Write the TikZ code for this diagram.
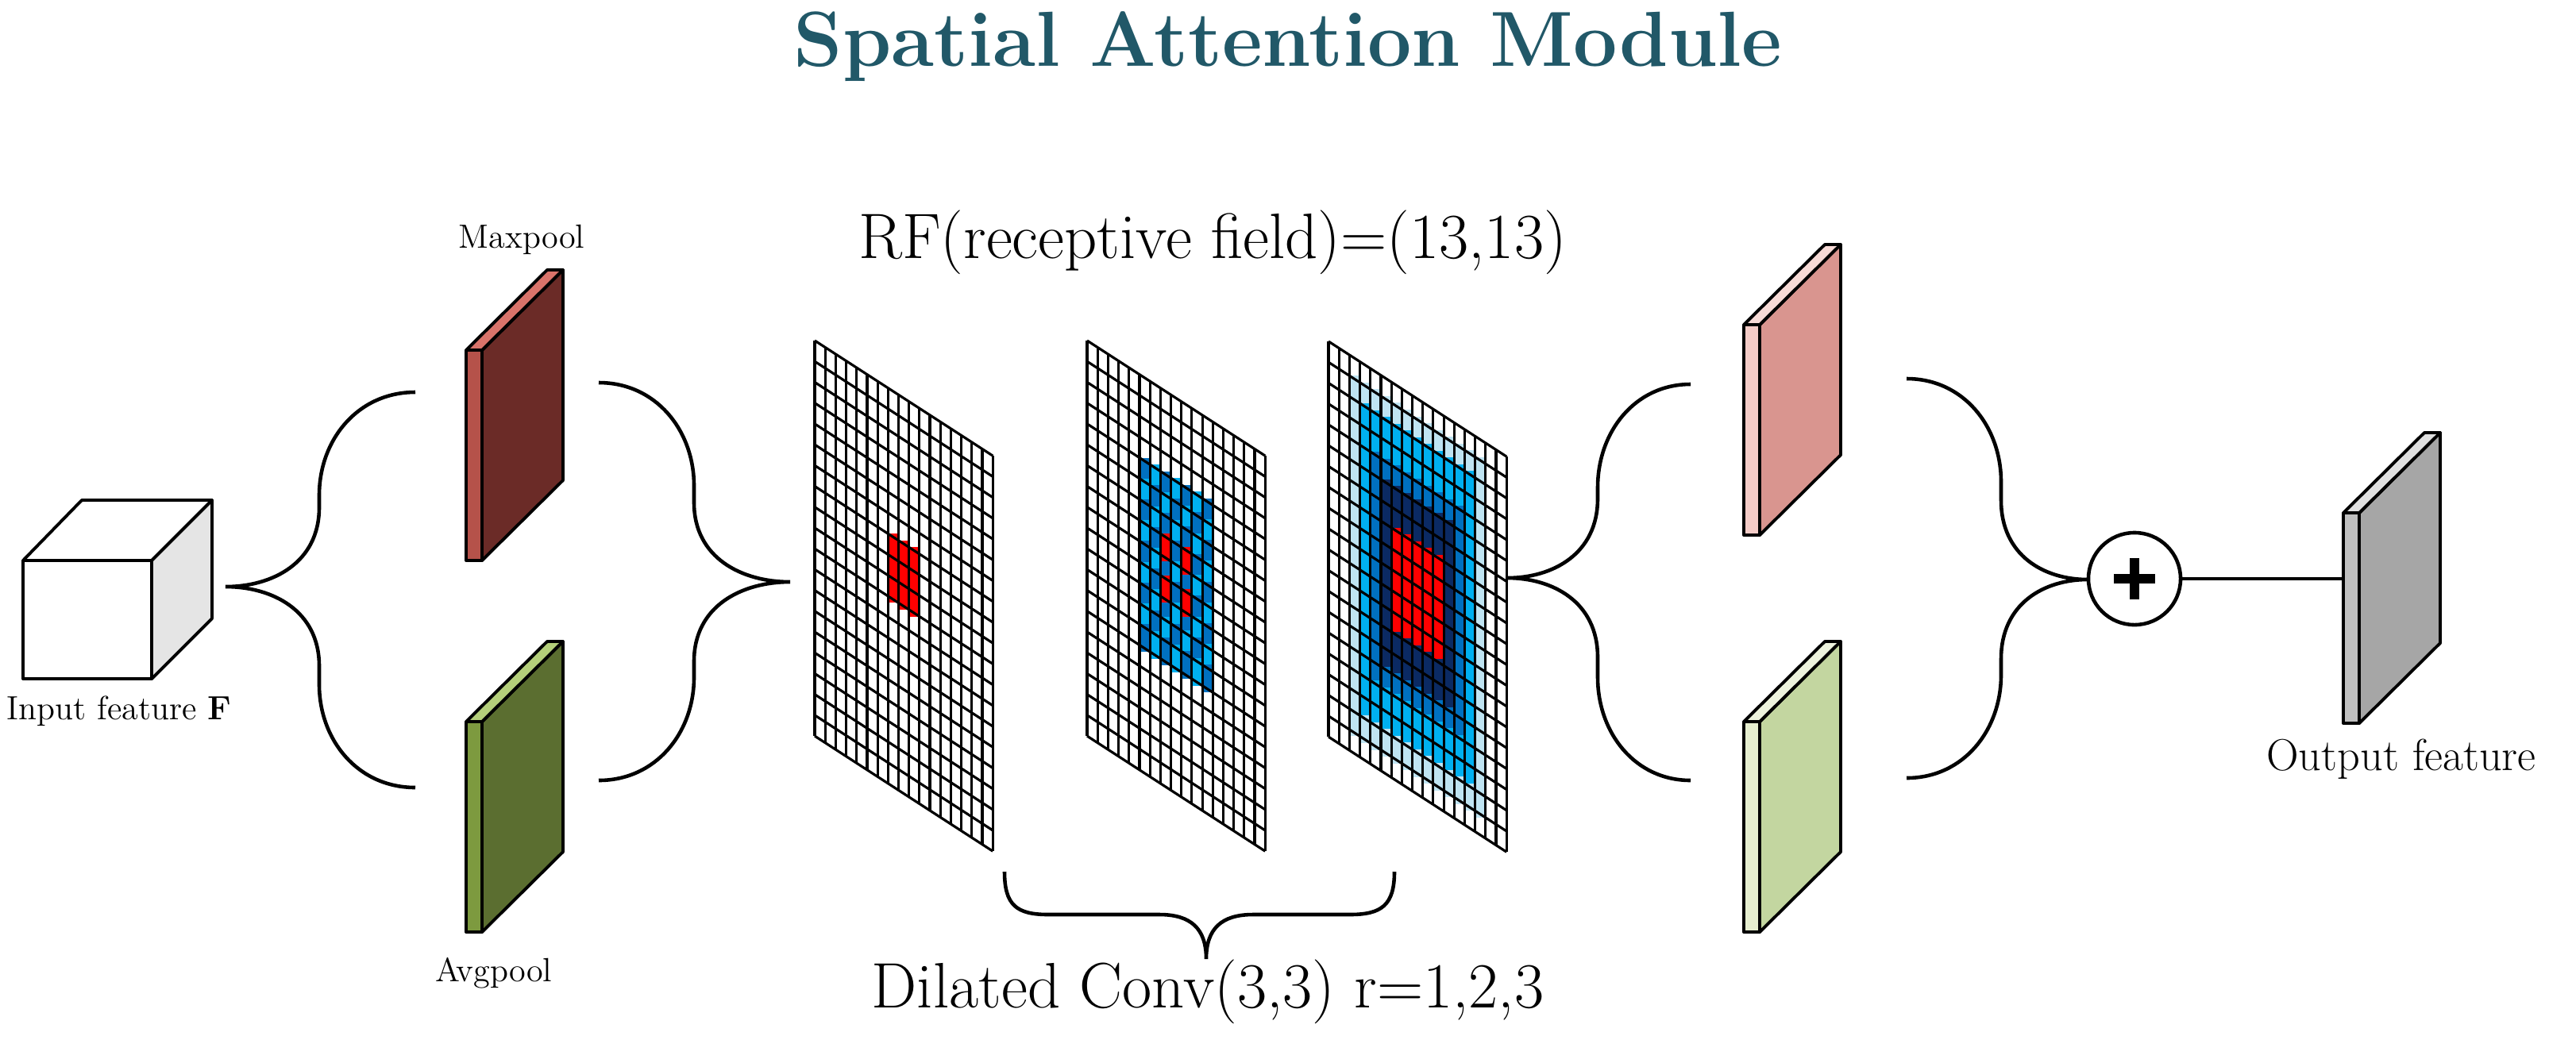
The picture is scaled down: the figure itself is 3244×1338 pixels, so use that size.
\documentclass[tikz,border=0pt]{standalone}
\usepackage{tikz}
\definecolor{titleblue}{HTML}{215868}
\definecolor{navy}{HTML}{0B2A63}
\definecolor{midblue}{HTML}{0070C0}
\definecolor{skyblue}{HTML}{00B0F0}
\definecolor{paleblue}{HTML}{BFE4F2}
\definecolor{maxside}{HTML}{B5524A}
\definecolor{maxfront}{HTML}{6B2B27}
\definecolor{maxtop}{HTML}{D9736A}
\definecolor{avgside}{HTML}{7D9A3F}
\definecolor{avgfront}{HTML}{5B6E30}
\definecolor{avgtop}{HTML}{B4CF7A}
\definecolor{pinkside}{HTML}{F4CCC7}
\definecolor{pinkfront}{HTML}{D9958F}
\definecolor{pinktop}{HTML}{F7DAD6}
\definecolor{greenside}{HTML}{E6EECF}
\definecolor{greenfront}{HTML}{C3D6A0}
\definecolor{greentop}{HTML}{EDF3DD}
\tikzset{
  brace/.style = {line width=1.3pt},
  gridline/.style = {line width=0.9pt},
  slab/.style = {draw, line width=1.1pt, line join=round},
  small label/.style = {font=\fontsize{12}{14}\selectfont, anchor=base},
  big label/.style = {font=\fontsize{23}{27}\selectfont, anchor=base}
}
% side x, top y, side colour, front colour, top colour, name
\newcommand\featplate[6]{%
  \fill[#3] (#1,#2) rectangle ({#1+20},{#2+265});
  \filldraw[#4,slab,draw=black] ({#1+20},#2) -- ({#1+20},{#2+265}) -- ({#1+122},{#2+164}) -- ({#1+122},{#2-101}) -- cycle;
  \filldraw[#5,slab,draw=black] (#1,#2) -- ({#1+20},#2) -- ({#1+122},{#2-101}) -- ({#1+102},{#2-101}) -- cycle;
  \draw[slab] (#1,#2) rectangle ({#1+20},{#2+265});
  \coordinate (#6) at (#1,{#2+132});
}
% tip x, tip y, spine x, end x, top end y, bottom end y
\newcommand\sidebrace[6]{%
  \draw[brace] (#4,#5) .. controls ({#3+0.4*(#4-#3)},#5) and (#3,{#5+60}) .. (#3,{#5+130})
    -- (#3,{#2-100}) .. controls (#3,{#2-30}) and ({#3+0.5*(#1-#3)},#2) .. (#1,#2)
    .. controls ({#3+0.5*(#1-#3)},#2) and (#3,{#2+30}) .. (#3,{#2+100})
    -- (#3,{#6-130}) .. controls (#3,{#6-60}) and ({#3+0.4*(#4-#3)},#6) .. (#4,#6);
}
\begin{document}
\begin{tikzpicture}[x=0.01cm,y=-0.01cm]
\useasboundingbox (0,0) rectangle (3244,1338);

\node[anchor=base,text=titleblue,font=\fontsize{28}{34}\selectfont\bfseries] (title) at (1622,83) {Spatial Attention Module};

% input cube
\filldraw[fill=white,slab] (29,706) rectangle (191,855);
\filldraw[fill=white,slab] (29,706) -- (103,630) -- (267,630) -- (191,706) -- cycle;
\filldraw[fill=black!10,slab] (191,706) -- (267,630) -- (267,779) -- (191,855) -- cycle;
\node[small label] (inlabel) at (150,906) {Input feature \textbf{F}};

% pooling maps
\featplate{587}{441}{maxside}{maxfront}{maxtop}{maxp}
\featplate{587}{909}{avgside}{avgfront}{avgtop}{avgp}
\node[small label] (maxlabel) at (657,312) {Maxpool};
\node[small label] (avglabel) at (622,1236) {Avgpool};

\sidebrace{284}{739}{402}{523}{494}{992}
\sidebrace{995}{733}{874}{754}{482}{983}

% dilated grids
\foreach \gx/\gy/\g in {1026/429/1, 1369/429/2, 1673/430/3}{
  \begin{scope}[shift={(\gx,\gy)},x={(0.1318cm,-0.0853cm)},y={(0cm,-0.262cm)}]
    \ifnum\g=1
      \foreach \i in {7,8,9} \foreach \j in {7,8,9} \fill[red] (\i,\j) rectangle +(1,1);
    \fi
    \ifnum\g=2
      \foreach \i in {5,...,11} \foreach \j in {4,...,12}{
        \pgfmathtruncatemacro\parity{mod(\i+\j,2)}
        \ifnum\parity=0 \fill[skyblue] (\i,\j) rectangle +(1,1); \else \fill[midblue] (\i,\j) rectangle +(1,1); \fi
      }
      \foreach \i/\j in {7/7,9/7,7/9,9/9} \fill[red] (\i,\j) rectangle +(1,1);
    \fi
    \ifnum\g=3
      \foreach \i in {0,...,16} \foreach \j in {0,...,18}{
        \pgfmathtruncatemacro\lev{ceil(max(abs(\i-8),abs(\j-9)*0.7))}
        \ifnum\lev<7
          \edef\cc{\ifcase\lev red\or red\or red\or navy\or midblue\or skyblue\else paleblue\fi}
          \fill[\cc] (\i,\j) rectangle +(1,1);
        \fi
      }
    \fi
    \foreach \k in {0,...,17} \draw[gridline] (\k,0) -- (\k,19);
    \foreach \k in {0,...,19} \draw[gridline] (0,\k) -- (17,\k);
  \end{scope}
}

\node[big label] (rf) at (1527,325) {RF(receptive field)=(13,13)};
\draw[brace] (1265,1098) .. controls (1265,1140) and (1280,1152) .. (1320,1152) -- (1460,1152)
  .. controls (1500,1152) and (1519,1170) .. (1519,1208)
  .. controls (1519,1170) and (1538,1152) .. (1578,1152) -- (1700,1152)
  .. controls (1740,1152) and (1756,1140) .. (1756,1098);
\node[big label] (dil) at (1521,1269) {Dilated Conv(3,3) r=1,2,3};

% refined maps
\featplate{2196}{409}{pinkside}{pinkfront}{pinktop}{pinkp}
\featplate{2196}{909}{greenside}{greenfront}{greentop}{greenp}
\sidebrace{1898}{728}{2012}{2129}{484}{983}
\sidebrace{2629}{730}{2520}{2401}{477}{980}

% sum and output
\node[circle,draw,line width=1.3pt,minimum size=1.16cm,inner sep=0pt] (add) at (2688,729) {};
\draw[line width=3.6pt] ([xshift=-0.26cm]add.center) -- ([xshift=0.26cm]add.center);
\draw[line width=3.6pt] ([yshift=-0.26cm]add.center) -- ([yshift=0.26cm]add.center);
\featplate{2951}{646}{black!25}{black!35}{black!12}{outp}
\draw[brace] (add) -- (outp |- add);
\node[anchor=base,font=\fontsize{16}{19}\selectfont] (outlabel) at (3024,970) {Output feature};
\end{tikzpicture}
\end{document}
